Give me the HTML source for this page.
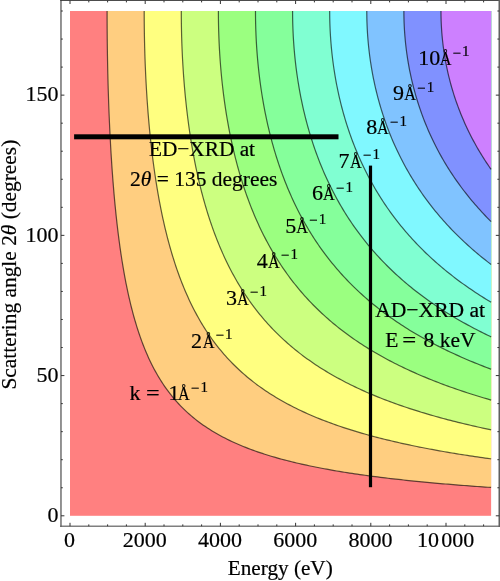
<!DOCTYPE html>
<html><head><meta charset="utf-8"><style>
html,body{margin:0;padding:0;background:#fff;}
body{width:500px;height:581px;position:relative;overflow:hidden;}
svg{position:absolute;left:0;top:0;}
.tx{font-family:"Liberation Serif",serif;font-size:22px;fill:#000;stroke:#000;stroke-width:0.2px;}
.tx .an{font-size:19px;}
.tx .sp{font-size:15px;}
</style></head><body>
<svg width="500" height="581" viewBox="0 0 500 581">
<rect x="70" y="11.01" width="421.12" height="504.79" fill="#FF8080"/>
<path d="M107.1,11.01 107.1,13.51 107.1,16.01 107.11,18.51 107.12,21.01 107.13,23.51 107.14,26.02 107.15,28.52 107.17,31.02 107.19,33.52 107.21,36.02 107.23,38.52 107.26,41.02 107.29,43.53 107.32,46.03 107.35,48.53 107.39,51.03 107.42,53.53 107.46,56.03 107.51,58.53 107.55,61.03 107.6,63.54 107.65,66.04 107.7,68.54 107.75,71.04 107.81,73.54 107.87,76.04 107.93,78.54 108,81.05 108.06,83.55 108.13,86.05 108.2,88.55 108.28,91.05 108.36,93.55 108.44,96.05 108.52,98.55 108.6,101.06 108.69,103.56 108.78,106.06 108.87,108.56 108.97,111.06 109.07,113.56 109.17,116.06 109.28,118.57 109.38,121.07 109.5,123.57 109.61,126.07 109.73,128.57 109.85,131.07 109.97,133.57 110.1,136.08 110.23,138.58 110.36,141.08 110.49,143.58 110.63,146.08 110.78,148.58 110.92,151.08 111.07,153.58 111.23,156.09 111.39,158.59 111.55,161.09 111.71,163.59 111.88,166.09 112.05,168.59 112.23,171.09 112.41,173.6 112.6,176.1 112.78,178.6 112.98,181.1 113.18,183.6 113.38,186.1 113.59,188.6 113.8,191.1 114.01,193.61 114.23,196.11 114.46,198.61 114.69,201.11 114.93,203.61 115.17,206.11 115.42,208.61 115.67,211.12 115.93,213.62 116.19,216.12 116.46,218.62 116.74,221.12 117.02,223.62 117.31,226.12 117.6,228.62 117.9,231.13 118.21,233.63 118.52,236.13 118.85,238.63 119.18,241.13 119.51,243.63 119.85,246.11 120.2,248.59 120.56,251.07 120.93,253.54 121.3,256.02 121.68,258.5 122.07,260.98 122.47,263.45 122.88,265.93 123.3,268.41 123.73,270.89 124.17,273.36 124.62,275.84 125.08,278.32 125.55,280.8 126.03,283.27 126.52,285.73 127.03,288.18 127.54,290.63 128.07,293.09 128.61,295.54 129.16,298 129.73,300.45 130.31,302.9 130.91,305.33 131.51,307.76 132.14,310.19 132.78,312.62 133.43,315.05 134.11,317.48 134.79,319.89 135.5,322.29 136.22,324.7 136.96,327.11 137.73,329.51 138.5,331.89 139.3,334.28 140.12,336.66 140.96,339.02 141.82,341.38 142.71,343.73 143.61,346.07 144.54,348.4 145.5,350.74 146.48,353.05 147.48,355.36 148.51,357.65 149.57,359.93 150.65,362.2 151.76,364.46 152.9,366.7 154.06,368.91 155.26,371.13 156.48,373.32 157.73,375.49 159.02,377.66 160.33,379.8 161.68,381.92 163.05,384.02 164.45,386.09 165.89,388.14 167.37,390.19 168.88,392.21 170.43,394.21 171.99,396.17 173.59,398.1 175.21,400 176.88,401.88 178.58,403.74 180.31,405.58 182.08,407.39 183.86,409.15 185.68,410.89 187.53,412.6 189.4,414.27 191.3,415.92 193.23,417.54 195.2,419.13 197.18,420.68 199.19,422.2 201.24,423.71 203.29,425.16 205.36,426.59 207.48,427.99 209.58,429.35 211.72,430.69 213.88,432 216.07,433.28 218.25,434.52 220.45,435.74 222.68,436.93 224.93,438.09 227.19,439.24 229.48,440.36 231.79,441.45 234.06,442.5 236.35,443.53 238.64,444.53 240.95,445.5 243.26,446.46 245.64,447.41 248.02,448.34 250.41,449.24 252.79,450.12 255.18,450.98 257.56,451.82 259.93,452.63 262.37,453.44 264.79,454.22 267.2,454.98 269.6,455.72 272.05,456.46 274.49,457.18 276.9,457.87 279.37,458.56 281.81,459.22 284.31,459.89 286.78,460.53 289.22,461.15 291.71,461.77 294.15,462.37 296.66,462.96 299.11,463.54 301.63,464.11 304.09,464.66 306.6,465.2 309.06,465.73 311.56,466.25 314.13,466.78 316.62,467.28 319.17,467.78 321.65,468.25 324.18,468.73 326.76,469.21 329.26,469.66 331.81,470.11 334.28,470.54 336.79,470.97 339.35,471.4 341.96,471.83 344.47,472.23 347.03,472.64 349.64,473.04 352.14,473.42 354.68,473.8 357.28,474.18 359.92,474.57 362.44,474.92 365,475.28 367.61,475.64 370.09,475.97 372.61,476.31 375.18,476.64 377.79,476.97 380.44,477.31 382.95,477.62 385.49,477.92 388.08,478.23 390.71,478.54 393.39,478.85 395.9,479.14 398.45,479.43 401.04,479.71 403.67,480 406.35,480.28 408.84,480.55 411.37,480.81 413.93,481.07 416.54,481.33 419.18,481.59 421.87,481.86 424.59,482.12 427.11,482.36 429.66,482.59 432.25,482.83 434.88,483.07 437.55,483.31 440.25,483.55 443,483.79 445.5,484 448.04,484.21 450.62,484.43 453.23,484.64 455.88,484.86 458.56,485.07 461.28,485.29 464.04,485.5 466.84,485.71 469.37,485.91 471.92,486.1 474.51,486.29 477.13,486.48 479.79,486.67 482.48,486.86 485.2,487.05 487.97,487.24 490.77,487.43 491.12,487.45 491.12,487.45 491.12,11.01Z" fill="#FFCE80"/>
<path d="M144.19,11.01 144.2,13.52 144.2,16.02 144.22,18.53 144.23,21.04 144.25,23.55 144.28,26.06 144.31,28.56 144.34,31.07 144.38,33.58 144.42,36.09 144.47,38.6 144.52,41.11 144.58,43.61 144.64,46.12 144.71,48.63 144.78,51.14 144.85,53.65 144.93,56.15 145.02,58.66 145.11,61.17 145.2,63.68 145.3,66.19 145.41,68.69 145.52,71.2 145.63,73.71 145.75,76.22 145.87,78.73 146,81.23 146.14,83.74 146.28,86.25 146.42,88.76 146.57,91.27 146.73,93.78 146.89,96.28 147.05,98.79 147.22,101.3 147.4,103.81 147.58,106.32 147.77,108.82 147.96,111.33 148.16,113.84 148.37,116.35 148.58,118.86 148.8,121.36 149.02,123.87 149.25,126.38 149.48,128.89 149.72,131.4 149.97,133.91 150.23,136.41 150.49,138.92 150.75,141.43 151.03,143.92 151.3,146.4 151.59,148.89 151.88,151.37 152.18,153.86 152.49,156.34 152.8,158.83 153.12,161.32 153.45,163.8 153.79,166.29 154.13,168.77 154.48,171.26 154.84,173.74 155.21,176.23 155.59,178.72 155.97,181.2 156.37,183.69 156.77,186.17 157.18,188.66 157.6,191.14 158.03,193.63 158.47,196.09 158.91,198.56 159.37,201.02 159.83,203.48 160.31,205.95 160.79,208.41 161.29,210.87 161.8,213.34 162.31,215.8 162.84,218.26 163.38,220.73 163.93,223.17 164.49,225.61 165.06,228.05 165.65,230.49 166.25,232.93 166.86,235.37 167.48,237.81 168.12,240.25 168.77,242.67 169.43,245.09 170.1,247.51 170.79,249.93 171.5,252.35 172.21,254.74 172.94,257.14 173.69,259.53 174.45,261.93 175.23,264.33 176.02,266.7 176.83,269.07 177.66,271.45 178.5,273.82 179.36,276.17 180.23,278.52 181.13,280.88 182.05,283.23 182.98,285.56 183.93,287.89 184.9,290.21 185.89,292.52 186.9,294.83 187.92,297.11 188.97,299.4 190.04,301.68 191.13,303.94 192.24,306.2 193.37,308.44 194.53,310.68 195.7,312.9 196.9,315.12 198.12,317.31 199.36,319.51 200.63,321.68 201.91,323.83 203.22,325.98 204.55,328.1 205.9,330.21 207.28,332.31 208.69,334.4 210.11,336.46 211.57,338.52 213.04,340.56 214.54,342.57 216.06,344.56 217.61,346.56 219.19,348.53 220.79,350.48 222.4,352.4 224.04,354.31 225.7,356.19 227.39,358.04 229.09,359.88 230.81,361.7 232.56,363.49 234.35,365.28 236.16,367.05 237.99,368.79 239.84,370.52 241.72,372.22 243.62,373.9 245.53,375.56 247.44,377.17 249.37,378.76 251.32,380.33 253.29,381.87 255.28,383.39 257.28,384.9 259.3,386.37 261.33,387.83 263.39,389.26 265.45,390.67 267.54,392.06 269.63,393.43 271.74,394.77 273.9,396.11 276.07,397.44 278.25,398.73 280.44,400.01 282.65,401.26 284.86,402.5 287.08,403.71 289.31,404.89 291.55,406.06 293.79,407.2 296.03,408.32 298.32,409.44 300.61,410.54 302.91,411.61 305.2,412.66 307.49,413.69 309.83,414.72 312.16,415.73 314.49,416.72 316.82,417.68 319.19,418.64 321.55,419.58 323.9,420.5 326.24,421.4 328.62,422.29 330.99,423.17 333.34,424.02 335.74,424.87 338.12,425.7 340.54,426.53 342.95,427.33 345.32,428.12 347.75,428.9 350.14,429.66 352.58,430.42 354.99,431.16 357.44,431.9 359.86,432.62 362.32,433.33 364.75,434.03 367.22,434.72 369.65,435.39 372.12,436.06 374.55,436.71 377.02,437.36 379.45,437.99 381.91,438.62 384.42,439.24 386.87,439.85 389.37,440.45 391.81,441.04 394.29,441.62 396.81,442.2 399.27,442.76 401.77,443.32 404.31,443.88 406.79,444.42 409.3,444.96 411.85,445.49 414.33,446.01 416.85,446.52 419.41,447.04 421.89,447.53 424.41,448.02 426.97,448.52 429.45,448.99 431.96,449.46 434.5,449.93 436.96,450.37 439.46,450.82 441.99,451.27 444.55,451.72 447.02,452.14 449.53,452.57 452.07,452.99 454.64,453.42 457.11,453.82 459.61,454.23 462.15,454.63 464.72,455.03 467.32,455.44 469.81,455.82 472.34,456.2 474.89,456.58 477.48,456.96 480.11,457.34 482.61,457.7 485.14,458.06 487.71,458.41 490.3,458.77 491.12,458.88 491.12,458.88 491.12,11.01Z" fill="#FFFF80"/>
<path d="M181.29,11.01 181.3,13.52 181.31,16.03 181.32,18.55 181.35,21.06 181.38,23.57 181.41,26.09 181.46,28.6 181.51,31.11 181.57,33.63 181.63,36.14 181.71,38.65 181.78,41.16 181.87,43.68 181.96,46.19 182.06,48.7 182.17,51.22 182.28,53.73 182.4,56.24 182.53,58.76 182.67,61.27 182.81,63.78 182.96,66.3 183.12,68.81 183.28,71.32 183.45,73.83 183.63,76.35 183.82,78.86 184.01,81.37 184.22,83.87 184.42,86.36 184.64,88.85 184.86,91.34 185.09,93.83 185.33,96.33 185.58,98.82 185.84,101.31 186.1,103.8 186.37,106.29 186.65,108.79 186.94,111.28 187.24,113.77 187.54,116.26 187.85,118.76 188.18,121.25 188.51,123.74 188.85,126.23 189.2,128.72 189.56,131.22 189.93,133.71 190.31,136.2 190.69,138.67 191.09,141.14 191.49,143.61 191.9,146.08 192.33,148.56 192.76,151.03 193.21,153.5 193.66,155.97 194.13,158.44 194.6,160.91 195.09,163.38 195.59,165.85 196.1,168.3 196.62,170.75 197.15,173.2 197.69,175.66 198.24,178.11 198.81,180.56 199.39,183.01 199.98,185.46 200.58,187.89 201.19,190.31 201.81,192.74 202.45,195.17 203.11,197.6 203.77,200.03 204.45,202.44 205.14,204.85 205.85,207.26 206.57,209.67 207.3,212.07 208.05,214.46 208.81,216.85 209.58,219.24 210.38,221.62 211.19,224.01 212.01,226.38 212.84,228.74 213.7,231.11 214.57,233.46 215.45,235.8 216.35,238.15 217.27,240.49 218.21,242.82 219.16,245.14 220.13,247.47 221.12,249.77 222.12,252.07 223.15,254.38 224.19,256.66 225.25,258.94 226.32,261.2 227.42,263.47 228.53,265.71 229.66,267.95 230.82,270.19 231.99,272.41 233.19,274.63 234.4,276.83 235.64,279.03 236.89,281.2 238.15,283.36 239.44,285.52 240.75,287.65 242.08,289.79 243.43,291.9 244.81,294.02 246.21,296.11 247.62,298.19 249.06,300.26 250.52,302.31 251.99,304.34 253.48,306.36 255,308.37 256.53,310.35 258.09,312.32 259.66,314.27 261.26,316.22 262.88,318.15 264.52,320.05 266.17,321.94 267.84,323.8 269.54,325.66 271.26,327.51 273,329.33 274.75,331.13 276.52,332.91 278.31,334.67 280.11,336.41 281.95,338.15 283.8,339.86 285.67,341.56 287.56,343.23 289.46,344.89 291.38,346.52 293.31,348.13 295.25,349.73 297.21,351.3 299.18,352.85 301.16,354.38 303.18,355.9 305.21,357.41 307.26,358.9 309.32,360.36 311.39,361.81 313.47,363.23 315.55,364.64 317.65,366.02 319.76,367.38 321.87,368.72 324.02,370.06 326.18,371.38 328.35,372.68 330.52,373.96 332.7,375.21 334.88,376.45 337.1,377.68 339.32,378.9 341.54,380.09 343.77,381.27 345.99,382.42 348.26,383.57 350.52,384.7 352.78,385.81 355.04,386.9 357.34,387.99 359.63,389.06 361.92,390.1 364.25,391.15 366.56,392.18 368.88,393.18 371.18,394.17 373.51,395.15 375.84,396.11 378.21,397.08 380.56,398.02 382.9,398.94 385.28,399.86 387.64,400.76 389.98,401.64 392.36,402.52 394.72,403.38 397.12,404.24 399.49,405.08 401.9,405.91 404.29,406.73 406.72,407.55 409.12,408.34 411.55,409.14 413.96,409.91 416.4,410.69 418.81,411.44 421.26,412.2 423.68,412.93 426.13,413.66 428.55,414.37 431,415.09 433.41,415.78 435.86,416.47 438.34,417.16 440.78,417.83 443.25,418.5 445.68,419.15 448.15,419.8 450.64,420.45 453.09,421.08 455.58,421.7 458.01,422.31 460.48,422.92 462.97,423.53 465.42,424.11 467.89,424.7 470.4,425.29 472.85,425.85 475.33,426.42 477.85,426.98 480.3,427.53 482.78,428.07 485.3,428.62 487.74,429.14 490.22,429.66 491.12,429.85 491.12,429.85 491.12,11.01Z" fill="#CCFF80"/>
<path d="M218.39,11.01 218.39,13.52 218.41,16.03 218.43,18.54 218.46,21.05 218.5,23.56 218.55,26.06 218.61,28.57 218.68,31.08 218.76,33.59 218.84,36.1 218.94,38.61 219.04,41.12 219.16,43.63 219.28,46.14 219.41,48.65 219.56,51.16 219.71,53.67 219.87,56.18 220.04,58.69 220.22,61.2 220.41,63.71 220.61,66.22 220.82,68.73 221.03,71.24 221.26,73.73 221.5,76.22 221.74,78.71 222,81.2 222.27,83.69 222.54,86.18 222.83,88.67 223.13,91.16 223.43,93.65 223.75,96.14 224.08,98.63 224.42,101.12 224.77,103.61 225.13,106.1 225.5,108.59 225.89,111.08 226.28,113.55 226.68,116.02 227.09,118.49 227.52,120.96 227.96,123.43 228.41,125.9 228.87,128.37 229.34,130.84 229.83,133.31 230.32,135.76 230.83,138.21 231.34,140.67 231.88,143.12 232.42,145.57 232.98,148.02 233.55,150.47 234.14,152.92 234.73,155.35 235.34,157.78 235.96,160.22 236.6,162.65 237.25,165.08 237.91,167.49 238.58,169.9 239.27,172.32 239.98,174.73 240.7,177.14 241.43,179.53 242.17,181.93 242.93,184.32 243.71,186.71 244.5,189.09 245.31,191.46 246.13,193.83 246.97,196.21 247.82,198.56 248.69,200.91 249.58,203.27 250.48,205.6 251.4,207.94 252.33,210.27 253.28,212.58 254.25,214.9 255.23,217.21 256.23,219.51 257.25,221.81 258.29,224.1 259.34,226.38 260.42,228.65 261.5,230.91 262.61,233.17 263.73,235.4 264.87,237.64 266.03,239.86 267.21,242.08 268.4,244.27 269.62,246.47 270.85,248.65 272.1,250.83 273.37,252.99 274.67,255.15 275.97,257.29 277.31,259.43 278.65,261.55 280.02,263.65 281.4,265.75 282.81,267.83 284.23,269.89 285.67,271.96 287.13,274 288.6,276.02 290.11,278.05 291.63,280.05 293.16,282.03 294.71,284 296.28,285.96 297.88,287.91 299.48,289.83 301.1,291.74 302.76,293.65 304.42,295.53 306.11,297.4 307.8,299.25 309.51,301.08 311.26,302.91 313.01,304.72 314.79,306.51 316.57,308.28 318.37,310.03 320.18,311.76 322.01,313.47 323.87,315.18 325.74,316.88 327.63,318.55 329.53,320.2 331.44,321.84 333.36,323.45 335.3,325.05 337.24,326.62 339.22,328.2 341.21,329.75 343.22,331.29 345.23,332.81 347.25,334.31 349.28,335.78 351.32,337.24 353.37,338.68 355.45,340.12 357.54,341.54 359.64,342.94 361.74,344.32 363.85,345.69 365.97,347.03 368.12,348.37 370.28,349.69 372.44,351 374.6,352.28 376.77,353.54 378.97,354.81 381.17,356.05 383.38,357.28 385.58,358.49 387.79,359.67 390.03,360.86 392.27,362.03 394.5,363.17 396.74,364.3 399.01,365.43 401.27,366.54 403.53,367.63 405.82,368.72 408.11,369.79 410.39,370.84 412.7,371.89 415.01,372.92 417.31,373.93 419.64,374.94 421.96,375.94 424.26,376.91 426.61,377.88 428.93,378.83 431.3,379.79 433.64,380.72 435.97,381.64 438.34,382.55 440.68,383.44 443.06,384.34 445.42,385.22 447.82,386.09 450.19,386.95 452.59,387.8 454.98,388.64 457.39,389.48 459.78,390.29 462.21,391.11 464.6,391.91 467.03,392.7 469.44,393.48 471.87,394.26 474.27,395.02 476.71,395.78 479.11,396.52 481.54,397.26 483.94,397.98 486.37,398.7 488.83,399.42 491.12,400.08 491.12,400.08 491.12,11.01Z" fill="#9BFF80"/>
<path d="M255.49,11.01 255.49,13.52 255.51,16.02 255.54,18.53 255.58,21.04 255.63,23.55 255.69,26.05 255.76,28.56 255.85,31.07 255.95,33.58 256.05,36.08 256.17,38.59 256.3,41.1 256.45,43.61 256.6,46.11 256.76,48.62 256.94,51.13 257.13,53.64 257.33,56.14 257.54,58.65 257.77,61.16 258,63.65 258.25,66.14 258.51,68.63 258.78,71.12 259.06,73.61 259.36,76.1 259.67,78.59 259.98,81.07 260.32,83.56 260.66,86.05 261.02,88.54 261.39,91.03 261.77,93.51 262.17,95.98 262.57,98.45 262.99,100.92 263.42,103.39 263.87,105.86 264.33,108.34 264.81,110.81 265.29,113.26 265.79,115.71 266.3,118.17 266.83,120.62 267.37,123.08 267.92,125.53 268.49,127.97 269.07,130.4 269.66,132.84 270.27,135.27 270.9,137.71 271.54,140.13 272.19,142.54 272.86,144.96 273.54,147.38 274.24,149.8 274.95,152.2 275.68,154.6 276.42,157 277.19,159.4 277.96,161.78 278.75,164.16 279.56,166.55 280.38,168.91 281.21,171.27 282.07,173.64 282.94,175.98 283.82,178.33 284.73,180.68 285.64,183.01 286.58,185.33 287.53,187.66 288.5,189.97 289.49,192.28 290.49,194.58 291.51,196.87 292.56,199.16 293.61,201.44 294.69,203.71 295.78,205.97 296.89,208.22 298.01,210.46 299.16,212.7 300.32,214.92 301.5,217.14 302.7,219.35 303.92,221.55 305.15,223.73 306.4,225.9 307.67,228.07 308.96,230.22 310.27,232.37 311.59,234.5 312.93,236.61 314.3,238.73 315.67,240.82 317.07,242.9 318.49,244.98 319.92,247.04 321.37,249.08 322.84,251.12 324.33,253.14 325.83,255.15 327.35,257.14 328.89,259.13 330.45,261.1 332.03,263.05 333.62,264.98 335.23,266.92 336.87,268.83 338.51,270.73 340.17,272.61 341.84,274.48 343.55,276.34 345.26,278.18 347,280.01 348.74,281.82 350.5,283.61 352.27,285.38 354.05,287.14 355.87,288.89 357.7,290.63 359.54,292.35 361.39,294.05 363.26,295.74 365.13,297.4 367.02,299.05 368.92,300.68 370.85,302.31 372.8,303.92 374.75,305.51 376.72,307.09 378.69,308.65 380.68,310.19 382.67,311.71 384.67,313.22 386.68,314.7 388.73,316.19 390.78,317.66 392.84,319.11 394.9,320.54 396.98,321.96 399.06,323.35 401.14,324.73 403.26,326.11 405.39,327.47 407.51,328.82 409.65,330.14 411.78,331.45 413.95,332.76 416.12,334.05 418.3,335.32 420.47,336.57 422.65,337.81 424.86,339.04 427.07,340.26 429.28,341.46 431.48,342.64 433.73,343.83 435.96,344.99 438.2,346.14 440.43,347.26 442.7,348.39 444.96,349.5 447.21,350.6 449.5,351.69 451.78,352.76 454.05,353.82 456.36,354.88 458.66,355.92 460.95,356.94 463.27,357.96 465.58,358.96 467.88,359.95 470.21,360.93 472.52,361.9 474.87,362.87 477.21,363.81 479.53,364.75 481.88,365.68 484.22,366.59 486.58,367.5 488.93,368.4 491.12,369.22 491.12,369.22 491.12,11.01Z" fill="#85FF9B"/>
<path d="M292.58,11.01 292.59,13.52 292.61,16.03 292.65,18.53 292.69,21.04 292.75,23.55 292.83,26.06 292.92,28.57 293.02,31.08 293.14,33.59 293.26,36.1 293.41,38.61 293.56,41.11 293.74,43.62 293.92,46.13 294.12,48.62 294.33,51.12 294.55,53.61 294.79,56.1 295.05,58.6 295.31,61.09 295.6,63.58 295.89,66.07 296.2,68.57 296.53,71.06 296.87,73.55 297.22,76.03 297.59,78.5 297.97,80.98 298.36,83.46 298.77,85.93 299.2,88.41 299.64,90.88 300.1,93.34 300.56,95.8 301.05,98.26 301.55,100.72 302.07,103.18 302.59,105.63 303.14,108.07 303.7,110.52 304.28,112.96 304.87,115.4 305.47,117.83 306.1,120.26 306.74,122.69 307.39,125.11 308.06,127.52 308.75,129.94 309.45,132.35 310.17,134.76 310.91,137.15 311.66,139.55 312.43,141.94 313.21,144.32 314.02,146.7 314.84,149.08 315.67,151.44 316.52,153.8 317.39,156.15 318.28,158.49 319.18,160.84 320.1,163.17 321.04,165.5 321.99,167.81 322.96,170.13 323.95,172.42 324.96,174.72 325.99,177.02 327.03,179.3 328.09,181.58 329.17,183.84 330.27,186.11 331.39,188.36 332.52,190.59 333.67,192.82 334.83,195.04 336.02,197.25 337.23,199.45 338.45,201.65 339.69,203.83 340.95,206 342.23,208.17 343.53,210.32 344.84,212.45 346.17,214.59 347.52,216.7 348.88,218.8 350.27,220.91 351.68,222.99 353.1,225.06 354.53,227.11 355.99,229.17 357.47,231.2 358.96,233.22 360.46,235.23 361.98,237.21 363.53,239.2 365.09,241.17 366.67,243.13 368.26,245.07 369.86,246.99 371.48,248.89 373.13,250.8 374.79,252.69 376.47,254.56 378.16,256.42 379.86,258.26 381.58,260.09 383.31,261.9 385.06,263.69 386.83,265.48 388.62,267.26 390.42,269.01 392.24,270.76 394.07,272.48 395.91,274.2 397.76,275.89 399.63,277.57 401.5,279.23 403.39,280.87 405.29,282.5 407.2,284.12 409.14,285.73 411.09,287.33 413.06,288.91 415.03,290.47 417.01,292.02 419.01,293.55 421.01,295.06 423.02,296.56 425.04,298.05 427.07,299.51 429.13,300.98 431.2,302.43 433.27,303.86 435.35,305.28 437.44,306.68 439.54,308.07 441.64,309.43 443.74,310.79 445.88,312.14 448.02,313.47 450.17,314.79 452.32,316.1 454.47,317.38 456.63,318.65 458.81,319.93 461,321.18 463.19,322.42 465.38,323.64 467.58,324.85 469.8,326.05 472.02,327.24 474.24,328.41 476.46,329.57 478.72,330.73 480.96,331.87 483.21,332.99 485.45,334.1 487.72,335.21 489.99,336.3 491.12,336.84 491.12,336.84 491.12,11.01Z" fill="#80FFD2"/>
<path d="M329.68,11.01 329.69,13.51 329.71,16.02 329.75,18.52 329.81,21.03 329.88,23.53 329.97,26.04 330.07,28.54 330.19,31.05 330.32,33.55 330.47,36.06 330.64,38.56 330.82,41.07 331.02,43.57 331.24,46.08 331.47,48.57 331.71,51.06 331.97,53.55 332.25,56.04 332.55,58.53 332.86,61.02 333.19,63.51 333.53,66 333.89,68.47 334.27,70.95 334.66,73.42 335.07,75.9 335.49,78.38 335.94,80.84 336.39,83.3 336.87,85.76 337.36,88.22 337.87,90.68 338.4,93.13 338.94,95.57 339.5,98.02 340.08,100.47 340.67,102.9 341.28,105.33 341.91,107.76 342.56,110.18 343.22,112.6 343.9,115.02 344.6,117.42 345.31,119.82 346.05,122.22 346.8,124.61 347.57,127 348.36,129.39 349.16,131.76 349.98,134.14 350.82,136.5 351.68,138.85 352.55,141.2 353.45,143.54 354.36,145.87 355.29,148.2 356.23,150.52 357.2,152.84 358.18,155.14 359.19,157.44 360.21,159.72 361.25,162.01 362.3,164.28 363.38,166.55 364.48,168.81 365.59,171.05 366.72,173.3 367.87,175.52 369.03,177.74 370.22,179.95 371.43,182.15 372.64,184.33 373.89,186.52 375.15,188.69 376.42,190.84 377.72,193 379.04,195.14 380.37,197.27 381.72,199.38 383.08,201.47 384.47,203.57 385.87,205.65 387.29,207.72 388.73,209.78 390.18,211.81 391.65,213.84 393.14,215.86 394.65,217.87 396.18,219.87 397.72,221.85 399.28,223.81 400.85,225.77 402.44,227.7 404.04,229.62 405.66,231.53 407.29,233.43 408.95,235.32 410.63,237.2 412.32,239.06 414.03,240.91 415.75,242.75 417.48,244.57 419.24,246.37 421,248.16 422.78,249.94 424.57,251.7 426.38,253.45 428.2,255.18 430.03,256.9 431.88,258.6 433.74,260.29 435.62,261.97 437.5,263.63 439.4,265.27 441.31,266.91 443.24,268.52 445.17,270.12 447.12,271.71 449.08,273.28 451.05,274.84 453.03,276.39 455.02,277.91 457.02,279.43 459.03,280.93 461.05,282.41 463.08,283.89 465.12,285.34 467.17,286.78 469.22,288.21 471.28,289.62 473.38,291.04 475.48,292.43 477.59,293.82 479.7,295.19 481.82,296.54 483.95,297.88 486.08,299.21 488.22,300.52 490.37,301.81 491.12,302.26 491.12,302.26 491.12,11.01Z" fill="#80F8FF"/>
<path d="M366.78,11.01 366.79,13.52 366.82,16.03 366.86,18.54 366.92,21.05 367.01,23.55 367.11,26.06 367.22,28.57 367.36,31.07 367.51,33.57 367.68,36.06 367.87,38.56 368.08,41.06 368.31,43.55 368.55,46.05 368.82,48.55 369.1,51.04 369.4,53.53 369.71,56.01 370.05,58.5 370.4,60.98 370.78,63.46 371.17,65.94 371.58,68.41 372.01,70.88 372.45,73.35 372.92,75.81 373.4,78.27 373.9,80.73 374.42,83.17 374.96,85.62 375.52,88.06 376.1,90.5 376.69,92.93 377.31,95.36 377.94,97.78 378.59,100.2 379.26,102.62 379.95,105.03 380.66,107.44 381.39,109.84 382.14,112.23 382.9,114.61 383.69,117 384.49,119.37 385.31,121.74 386.15,124.09 387.02,126.45 387.89,128.8 388.8,131.14 389.71,133.47 390.65,135.79 391.61,138.11 392.58,140.42 393.58,142.72 394.6,145.02 395.63,147.3 396.68,149.58 397.76,151.85 398.85,154.1 399.95,156.35 401.08,158.59 402.23,160.82 403.4,163.04 404.58,165.24 405.79,167.45 407.01,169.64 408.26,171.82 409.52,173.99 410.79,176.14 412.09,178.29 413.4,180.42 414.74,182.54 416.09,184.66 417.46,186.76 418.85,188.86 420.26,190.93 421.68,193 423.12,195.05 424.58,197.09 426.06,199.12 427.55,201.14 429.06,203.14 430.59,205.13 432.13,207.11 433.7,209.07 435.27,211.02 436.87,212.96 438.48,214.89 440.11,216.8 441.75,218.7 443.42,220.59 445.09,222.47 446.78,224.32 448.48,226.15 450.19,227.98 451.92,229.79 453.67,231.59 455.43,233.38 457.21,235.15 459,236.91 460.81,238.66 462.63,240.4 464.46,242.11 466.3,243.81 468.15,245.49 470.02,247.17 471.9,248.83 473.79,250.47 475.7,252.11 477.63,253.73 479.56,255.34 481.5,256.93 483.44,258.5 485.4,260.06 487.38,261.6 489.36,263.14 491.12,264.48 491.12,264.48 491.12,11.01Z" fill="#80C3FF"/>
<path d="M403.88,11.01 403.89,13.51 403.92,16.02 403.97,18.53 404.04,21.03 404.13,23.54 404.24,26.05 404.37,28.55 404.53,31.05 404.7,33.54 404.89,36.04 405.11,38.53 405.34,41.03 405.59,43.53 405.87,46.01 406.16,48.5 406.48,50.98 406.81,53.47 407.17,55.95 407.54,58.43 407.94,60.9 408.36,63.38 408.8,65.84 409.25,68.3 409.73,70.77 410.23,73.22 410.75,75.67 411.29,78.12 411.85,80.56 412.43,82.99 413.03,85.43 413.65,87.85 414.3,90.27 414.96,92.68 415.64,95.09 416.34,97.49 417.07,99.89 417.81,102.28 418.58,104.67 419.36,107.05 420.17,109.42 421,111.79 421.84,114.15 422.71,116.5 423.6,118.85 424.51,121.19 425.44,123.51 426.38,125.83 427.35,128.14 428.34,130.44 429.35,132.74 430.38,135.02 431.43,137.3 432.5,139.56 433.58,141.82 434.69,144.06 435.81,146.29 436.96,148.52 438.13,150.75 439.32,152.96 440.53,155.16 441.76,157.35 443.01,159.53 444.28,161.7 445.56,163.84 446.85,165.98 448.17,168.11 449.51,170.23 450.87,172.33 452.24,174.43 453.64,176.51 455.05,178.59 456.48,180.64 457.93,182.68 459.39,184.72 460.88,186.74 462.38,188.75 463.89,190.74 465.42,192.72 466.97,194.69 468.54,196.65 470.13,198.59 471.73,200.52 473.35,202.44 474.98,204.34 476.63,206.23 478.29,208.1 479.97,209.97 481.67,211.82 483.38,213.65 485.1,215.47 486.84,217.29 488.59,219.08 490.36,220.86 491.12,221.61 491.12,221.61 491.12,11.01Z" fill="#8091FF"/>
<path d="M440.97,11.01 440.99,13.51 441.02,16.01 441.08,18.52 441.15,21.02 441.26,23.52 441.38,26.03 441.53,28.53 441.69,31.03 441.89,33.52 442.1,36.02 442.34,38.51 442.6,41 442.88,43.49 443.18,45.97 443.51,48.45 443.86,50.93 444.23,53.41 444.62,55.88 445.04,58.35 445.48,60.82 445.94,63.28 446.42,65.74 446.93,68.19 447.45,70.64 448,73.08 448.58,75.52 449.17,77.95 449.79,80.38 450.43,82.8 451.09,85.22 451.77,87.62 452.48,90.02 453.2,92.42 453.95,94.81 454.73,97.19 455.52,99.57 456.34,101.94 457.17,104.3 458.03,106.65 458.91,109 459.82,111.33 460.74,113.66 461.69,115.98 462.65,118.29 463.64,120.6 464.65,122.89 465.68,125.17 466.73,127.44 467.8,129.71 468.9,131.96 470.01,134.2 471.14,136.43 472.3,138.66 473.47,140.87 474.67,143.07 475.88,145.26 477.11,147.44 478.37,149.61 479.64,151.76 480.94,153.91 482.25,156.04 483.58,158.16 484.93,160.27 486.3,162.37 487.69,164.45 489.1,166.53 490.53,168.59 491.12,169.43 491.12,169.43 491.12,11.01Z" fill="#CD80FF"/>
<g fill="none" stroke="#000" stroke-opacity="0.62" stroke-width="1.2"><path d="M107.1,11.01 107.1,13.51 107.1,16.01 107.11,18.51 107.12,21.01 107.13,23.51 107.14,26.02 107.15,28.52 107.17,31.02 107.19,33.52 107.21,36.02 107.23,38.52 107.26,41.02 107.29,43.53 107.32,46.03 107.35,48.53 107.39,51.03 107.42,53.53 107.46,56.03 107.51,58.53 107.55,61.03 107.6,63.54 107.65,66.04 107.7,68.54 107.75,71.04 107.81,73.54 107.87,76.04 107.93,78.54 108,81.05 108.06,83.55 108.13,86.05 108.2,88.55 108.28,91.05 108.36,93.55 108.44,96.05 108.52,98.55 108.6,101.06 108.69,103.56 108.78,106.06 108.87,108.56 108.97,111.06 109.07,113.56 109.17,116.06 109.28,118.57 109.38,121.07 109.5,123.57 109.61,126.07 109.73,128.57 109.85,131.07 109.97,133.57 110.1,136.08 110.23,138.58 110.36,141.08 110.49,143.58 110.63,146.08 110.78,148.58 110.92,151.08 111.07,153.58 111.23,156.09 111.39,158.59 111.55,161.09 111.71,163.59 111.88,166.09 112.05,168.59 112.23,171.09 112.41,173.6 112.6,176.1 112.78,178.6 112.98,181.1 113.18,183.6 113.38,186.1 113.59,188.6 113.8,191.1 114.01,193.61 114.23,196.11 114.46,198.61 114.69,201.11 114.93,203.61 115.17,206.11 115.42,208.61 115.67,211.12 115.93,213.62 116.19,216.12 116.46,218.62 116.74,221.12 117.02,223.62 117.31,226.12 117.6,228.62 117.9,231.13 118.21,233.63 118.52,236.13 118.85,238.63 119.18,241.13 119.51,243.63 119.85,246.11 120.2,248.59 120.56,251.07 120.93,253.54 121.3,256.02 121.68,258.5 122.07,260.98 122.47,263.45 122.88,265.93 123.3,268.41 123.73,270.89 124.17,273.36 124.62,275.84 125.08,278.32 125.55,280.8 126.03,283.27 126.52,285.73 127.03,288.18 127.54,290.63 128.07,293.09 128.61,295.54 129.16,298 129.73,300.45 130.31,302.9 130.91,305.33 131.51,307.76 132.14,310.19 132.78,312.62 133.43,315.05 134.11,317.48 134.79,319.89 135.5,322.29 136.22,324.7 136.96,327.11 137.73,329.51 138.5,331.89 139.3,334.28 140.12,336.66 140.96,339.02 141.82,341.38 142.71,343.73 143.61,346.07 144.54,348.4 145.5,350.74 146.48,353.05 147.48,355.36 148.51,357.65 149.57,359.93 150.65,362.2 151.76,364.46 152.9,366.7 154.06,368.91 155.26,371.13 156.48,373.32 157.73,375.49 159.02,377.66 160.33,379.8 161.68,381.92 163.05,384.02 164.45,386.09 165.89,388.14 167.37,390.19 168.88,392.21 170.43,394.21 171.99,396.17 173.59,398.1 175.21,400 176.88,401.88 178.58,403.74 180.31,405.58 182.08,407.39 183.86,409.15 185.68,410.89 187.53,412.6 189.4,414.27 191.3,415.92 193.23,417.54 195.2,419.13 197.18,420.68 199.19,422.2 201.24,423.71 203.29,425.16 205.36,426.59 207.48,427.99 209.58,429.35 211.72,430.69 213.88,432 216.07,433.28 218.25,434.52 220.45,435.74 222.68,436.93 224.93,438.09 227.19,439.24 229.48,440.36 231.79,441.45 234.06,442.5 236.35,443.53 238.64,444.53 240.95,445.5 243.26,446.46 245.64,447.41 248.02,448.34 250.41,449.24 252.79,450.12 255.18,450.98 257.56,451.82 259.93,452.63 262.37,453.44 264.79,454.22 267.2,454.98 269.6,455.72 272.05,456.46 274.49,457.18 276.9,457.87 279.37,458.56 281.81,459.22 284.31,459.89 286.78,460.53 289.22,461.15 291.71,461.77 294.15,462.37 296.66,462.96 299.11,463.54 301.63,464.11 304.09,464.66 306.6,465.2 309.06,465.73 311.56,466.25 314.13,466.78 316.62,467.28 319.17,467.78 321.65,468.25 324.18,468.73 326.76,469.21 329.26,469.66 331.81,470.11 334.28,470.54 336.79,470.97 339.35,471.4 341.96,471.83 344.47,472.23 347.03,472.64 349.64,473.04 352.14,473.42 354.68,473.8 357.28,474.18 359.92,474.57 362.44,474.92 365,475.28 367.61,475.64 370.09,475.97 372.61,476.31 375.18,476.64 377.79,476.97 380.44,477.31 382.95,477.62 385.49,477.92 388.08,478.23 390.71,478.54 393.39,478.85 395.9,479.14 398.45,479.43 401.04,479.71 403.67,480 406.35,480.28 408.84,480.55 411.37,480.81 413.93,481.07 416.54,481.33 419.18,481.59 421.87,481.86 424.59,482.12 427.11,482.36 429.66,482.59 432.25,482.83 434.88,483.07 437.55,483.31 440.25,483.55 443,483.79 445.5,484 448.04,484.21 450.62,484.43 453.23,484.64 455.88,484.86 458.56,485.07 461.28,485.29 464.04,485.5 466.84,485.71 469.37,485.91 471.92,486.1 474.51,486.29 477.13,486.48 479.79,486.67 482.48,486.86 485.2,487.05 487.97,487.24 490.77,487.43 491.12,487.45"/><path d="M144.19,11.01 144.2,13.52 144.2,16.02 144.22,18.53 144.23,21.04 144.25,23.55 144.28,26.06 144.31,28.56 144.34,31.07 144.38,33.58 144.42,36.09 144.47,38.6 144.52,41.11 144.58,43.61 144.64,46.12 144.71,48.63 144.78,51.14 144.85,53.65 144.93,56.15 145.02,58.66 145.11,61.17 145.2,63.68 145.3,66.19 145.41,68.69 145.52,71.2 145.63,73.71 145.75,76.22 145.87,78.73 146,81.23 146.14,83.74 146.28,86.25 146.42,88.76 146.57,91.27 146.73,93.78 146.89,96.28 147.05,98.79 147.22,101.3 147.4,103.81 147.58,106.32 147.77,108.82 147.96,111.33 148.16,113.84 148.37,116.35 148.58,118.86 148.8,121.36 149.02,123.87 149.25,126.38 149.48,128.89 149.72,131.4 149.97,133.91 150.23,136.41 150.49,138.92 150.75,141.43 151.03,143.92 151.3,146.4 151.59,148.89 151.88,151.37 152.18,153.86 152.49,156.34 152.8,158.83 153.12,161.32 153.45,163.8 153.79,166.29 154.13,168.77 154.48,171.26 154.84,173.74 155.21,176.23 155.59,178.72 155.97,181.2 156.37,183.69 156.77,186.17 157.18,188.66 157.6,191.14 158.03,193.63 158.47,196.09 158.91,198.56 159.37,201.02 159.83,203.48 160.31,205.95 160.79,208.41 161.29,210.87 161.8,213.34 162.31,215.8 162.84,218.26 163.38,220.73 163.93,223.17 164.49,225.61 165.06,228.05 165.65,230.49 166.25,232.93 166.86,235.37 167.48,237.81 168.12,240.25 168.77,242.67 169.43,245.09 170.1,247.51 170.79,249.93 171.5,252.35 172.21,254.74 172.94,257.14 173.69,259.53 174.45,261.93 175.23,264.33 176.02,266.7 176.83,269.07 177.66,271.45 178.5,273.82 179.36,276.17 180.23,278.52 181.13,280.88 182.05,283.23 182.98,285.56 183.93,287.89 184.9,290.21 185.89,292.52 186.9,294.83 187.92,297.11 188.97,299.4 190.04,301.68 191.13,303.94 192.24,306.2 193.37,308.44 194.53,310.68 195.7,312.9 196.9,315.12 198.12,317.31 199.36,319.51 200.63,321.68 201.91,323.83 203.22,325.98 204.55,328.1 205.9,330.21 207.28,332.31 208.69,334.4 210.11,336.46 211.57,338.52 213.04,340.56 214.54,342.57 216.06,344.56 217.61,346.56 219.19,348.53 220.79,350.48 222.4,352.4 224.04,354.31 225.7,356.19 227.39,358.04 229.09,359.88 230.81,361.7 232.56,363.49 234.35,365.28 236.16,367.05 237.99,368.79 239.84,370.52 241.72,372.22 243.62,373.9 245.53,375.56 247.44,377.17 249.37,378.76 251.32,380.33 253.29,381.87 255.28,383.39 257.28,384.9 259.3,386.37 261.33,387.83 263.39,389.26 265.45,390.67 267.54,392.06 269.63,393.43 271.74,394.77 273.9,396.11 276.07,397.44 278.25,398.73 280.44,400.01 282.65,401.26 284.86,402.5 287.08,403.71 289.31,404.89 291.55,406.06 293.79,407.2 296.03,408.32 298.32,409.44 300.61,410.54 302.91,411.61 305.2,412.66 307.49,413.69 309.83,414.72 312.16,415.73 314.49,416.72 316.82,417.68 319.19,418.64 321.55,419.58 323.9,420.5 326.24,421.4 328.62,422.29 330.99,423.17 333.34,424.02 335.74,424.87 338.12,425.7 340.54,426.53 342.95,427.33 345.32,428.12 347.75,428.9 350.14,429.66 352.58,430.42 354.99,431.16 357.44,431.9 359.86,432.62 362.32,433.33 364.75,434.03 367.22,434.72 369.65,435.39 372.12,436.06 374.55,436.71 377.02,437.36 379.45,437.99 381.91,438.62 384.42,439.24 386.87,439.85 389.37,440.45 391.81,441.04 394.29,441.62 396.81,442.2 399.27,442.76 401.77,443.32 404.31,443.88 406.79,444.42 409.3,444.96 411.85,445.49 414.33,446.01 416.85,446.52 419.41,447.04 421.89,447.53 424.41,448.02 426.97,448.52 429.45,448.99 431.96,449.46 434.5,449.93 436.96,450.37 439.46,450.82 441.99,451.27 444.55,451.72 447.02,452.14 449.53,452.57 452.07,452.99 454.64,453.42 457.11,453.82 459.61,454.23 462.15,454.63 464.72,455.03 467.32,455.44 469.81,455.82 472.34,456.2 474.89,456.58 477.48,456.96 480.11,457.34 482.61,457.7 485.14,458.06 487.71,458.41 490.3,458.77 491.12,458.88"/><path d="M181.29,11.01 181.3,13.52 181.31,16.03 181.32,18.55 181.35,21.06 181.38,23.57 181.41,26.09 181.46,28.6 181.51,31.11 181.57,33.63 181.63,36.14 181.71,38.65 181.78,41.16 181.87,43.68 181.96,46.19 182.06,48.7 182.17,51.22 182.28,53.73 182.4,56.24 182.53,58.76 182.67,61.27 182.81,63.78 182.96,66.3 183.12,68.81 183.28,71.32 183.45,73.83 183.63,76.35 183.82,78.86 184.01,81.37 184.22,83.87 184.42,86.36 184.64,88.85 184.86,91.34 185.09,93.83 185.33,96.33 185.58,98.82 185.84,101.31 186.1,103.8 186.37,106.29 186.65,108.79 186.94,111.28 187.24,113.77 187.54,116.26 187.85,118.76 188.18,121.25 188.51,123.74 188.85,126.23 189.2,128.72 189.56,131.22 189.93,133.71 190.31,136.2 190.69,138.67 191.09,141.14 191.49,143.61 191.9,146.08 192.33,148.56 192.76,151.03 193.21,153.5 193.66,155.97 194.13,158.44 194.6,160.91 195.09,163.38 195.59,165.85 196.1,168.3 196.62,170.75 197.15,173.2 197.69,175.66 198.24,178.11 198.81,180.56 199.39,183.01 199.98,185.46 200.58,187.89 201.19,190.31 201.81,192.74 202.45,195.17 203.11,197.6 203.77,200.03 204.45,202.44 205.14,204.85 205.85,207.26 206.57,209.67 207.3,212.07 208.05,214.46 208.81,216.85 209.58,219.24 210.38,221.62 211.19,224.01 212.01,226.38 212.84,228.74 213.7,231.11 214.57,233.46 215.45,235.8 216.35,238.15 217.27,240.49 218.21,242.82 219.16,245.14 220.13,247.47 221.12,249.77 222.12,252.07 223.15,254.38 224.19,256.66 225.25,258.94 226.32,261.2 227.42,263.47 228.53,265.71 229.66,267.95 230.82,270.19 231.99,272.41 233.19,274.63 234.4,276.83 235.64,279.03 236.89,281.2 238.15,283.36 239.44,285.52 240.75,287.65 242.08,289.79 243.43,291.9 244.81,294.02 246.21,296.11 247.62,298.19 249.06,300.26 250.52,302.31 251.99,304.34 253.48,306.36 255,308.37 256.53,310.35 258.09,312.32 259.66,314.27 261.26,316.22 262.88,318.15 264.52,320.05 266.17,321.94 267.84,323.8 269.54,325.66 271.26,327.51 273,329.33 274.75,331.13 276.52,332.91 278.31,334.67 280.11,336.41 281.95,338.15 283.8,339.86 285.67,341.56 287.56,343.23 289.46,344.89 291.38,346.52 293.31,348.13 295.25,349.73 297.21,351.3 299.18,352.85 301.16,354.38 303.18,355.9 305.21,357.41 307.26,358.9 309.32,360.36 311.39,361.81 313.47,363.23 315.55,364.64 317.65,366.02 319.76,367.38 321.87,368.72 324.02,370.06 326.18,371.38 328.35,372.68 330.52,373.96 332.7,375.21 334.88,376.45 337.1,377.68 339.32,378.9 341.54,380.09 343.77,381.27 345.99,382.42 348.26,383.57 350.52,384.7 352.78,385.81 355.04,386.9 357.34,387.99 359.63,389.06 361.92,390.1 364.25,391.15 366.56,392.18 368.88,393.18 371.18,394.17 373.51,395.15 375.84,396.11 378.21,397.08 380.56,398.02 382.9,398.94 385.28,399.86 387.64,400.76 389.98,401.64 392.36,402.52 394.72,403.38 397.12,404.24 399.49,405.08 401.9,405.91 404.29,406.73 406.72,407.55 409.12,408.34 411.55,409.14 413.96,409.91 416.4,410.69 418.81,411.44 421.26,412.2 423.68,412.93 426.13,413.66 428.55,414.37 431,415.09 433.41,415.78 435.86,416.47 438.34,417.16 440.78,417.83 443.25,418.5 445.68,419.15 448.15,419.8 450.64,420.45 453.09,421.08 455.58,421.7 458.01,422.31 460.48,422.92 462.97,423.53 465.42,424.11 467.89,424.7 470.4,425.29 472.85,425.85 475.33,426.42 477.85,426.98 480.3,427.53 482.78,428.07 485.3,428.62 487.74,429.14 490.22,429.66 491.12,429.85"/><path d="M218.39,11.01 218.39,13.52 218.41,16.03 218.43,18.54 218.46,21.05 218.5,23.56 218.55,26.06 218.61,28.57 218.68,31.08 218.76,33.59 218.84,36.1 218.94,38.61 219.04,41.12 219.16,43.63 219.28,46.14 219.41,48.65 219.56,51.16 219.71,53.67 219.87,56.18 220.04,58.69 220.22,61.2 220.41,63.71 220.61,66.22 220.82,68.73 221.03,71.24 221.26,73.73 221.5,76.22 221.74,78.71 222,81.2 222.27,83.69 222.54,86.18 222.83,88.67 223.13,91.16 223.43,93.65 223.75,96.14 224.08,98.63 224.42,101.12 224.77,103.61 225.13,106.1 225.5,108.59 225.89,111.08 226.28,113.55 226.68,116.02 227.09,118.49 227.52,120.96 227.96,123.43 228.41,125.9 228.87,128.37 229.34,130.84 229.83,133.31 230.32,135.76 230.83,138.21 231.34,140.67 231.88,143.12 232.42,145.57 232.98,148.02 233.55,150.47 234.14,152.92 234.73,155.35 235.34,157.78 235.96,160.22 236.6,162.65 237.25,165.08 237.91,167.49 238.58,169.9 239.27,172.32 239.98,174.73 240.7,177.14 241.43,179.53 242.17,181.93 242.93,184.32 243.71,186.71 244.5,189.09 245.31,191.46 246.13,193.83 246.97,196.21 247.82,198.56 248.69,200.91 249.58,203.27 250.48,205.6 251.4,207.94 252.33,210.27 253.28,212.58 254.25,214.9 255.23,217.21 256.23,219.51 257.25,221.81 258.29,224.1 259.34,226.38 260.42,228.65 261.5,230.91 262.61,233.17 263.73,235.4 264.87,237.64 266.03,239.86 267.21,242.08 268.4,244.27 269.62,246.47 270.85,248.65 272.1,250.83 273.37,252.99 274.67,255.15 275.97,257.29 277.31,259.43 278.65,261.55 280.02,263.65 281.4,265.75 282.81,267.83 284.23,269.89 285.67,271.96 287.13,274 288.6,276.02 290.11,278.05 291.63,280.05 293.16,282.03 294.71,284 296.28,285.96 297.88,287.91 299.48,289.83 301.1,291.74 302.76,293.65 304.42,295.53 306.11,297.4 307.8,299.25 309.51,301.08 311.26,302.91 313.01,304.72 314.79,306.51 316.57,308.28 318.37,310.03 320.18,311.76 322.01,313.47 323.87,315.18 325.74,316.88 327.63,318.55 329.53,320.2 331.44,321.84 333.36,323.45 335.3,325.05 337.24,326.62 339.22,328.2 341.21,329.75 343.22,331.29 345.23,332.81 347.25,334.31 349.28,335.78 351.32,337.24 353.37,338.68 355.45,340.12 357.54,341.54 359.64,342.94 361.74,344.32 363.85,345.69 365.97,347.03 368.12,348.37 370.28,349.69 372.44,351 374.6,352.28 376.77,353.54 378.97,354.81 381.17,356.05 383.38,357.28 385.58,358.49 387.79,359.67 390.03,360.86 392.27,362.03 394.5,363.17 396.74,364.3 399.01,365.43 401.27,366.54 403.53,367.63 405.82,368.72 408.11,369.79 410.39,370.84 412.7,371.89 415.01,372.92 417.31,373.93 419.64,374.94 421.96,375.94 424.26,376.91 426.61,377.88 428.93,378.83 431.3,379.79 433.64,380.72 435.97,381.64 438.34,382.55 440.68,383.44 443.06,384.34 445.42,385.22 447.82,386.09 450.19,386.95 452.59,387.8 454.98,388.64 457.39,389.48 459.78,390.29 462.21,391.11 464.6,391.91 467.03,392.7 469.44,393.48 471.87,394.26 474.27,395.02 476.71,395.78 479.11,396.52 481.54,397.26 483.94,397.98 486.37,398.7 488.83,399.42 491.12,400.08"/><path d="M255.49,11.01 255.49,13.52 255.51,16.02 255.54,18.53 255.58,21.04 255.63,23.55 255.69,26.05 255.76,28.56 255.85,31.07 255.95,33.58 256.05,36.08 256.17,38.59 256.3,41.1 256.45,43.61 256.6,46.11 256.76,48.62 256.94,51.13 257.13,53.64 257.33,56.14 257.54,58.65 257.77,61.16 258,63.65 258.25,66.14 258.51,68.63 258.78,71.12 259.06,73.61 259.36,76.1 259.67,78.59 259.98,81.07 260.32,83.56 260.66,86.05 261.02,88.54 261.39,91.03 261.77,93.51 262.17,95.98 262.57,98.45 262.99,100.92 263.42,103.39 263.87,105.86 264.33,108.34 264.81,110.81 265.29,113.26 265.79,115.71 266.3,118.17 266.83,120.62 267.37,123.08 267.92,125.53 268.49,127.97 269.07,130.4 269.66,132.84 270.27,135.27 270.9,137.71 271.54,140.13 272.19,142.54 272.86,144.96 273.54,147.38 274.24,149.8 274.95,152.2 275.68,154.6 276.42,157 277.19,159.4 277.96,161.78 278.75,164.16 279.56,166.55 280.38,168.91 281.21,171.27 282.07,173.64 282.94,175.98 283.82,178.33 284.73,180.68 285.64,183.01 286.58,185.33 287.53,187.66 288.5,189.97 289.49,192.28 290.49,194.58 291.51,196.87 292.56,199.16 293.61,201.44 294.69,203.71 295.78,205.97 296.89,208.22 298.01,210.46 299.16,212.7 300.32,214.92 301.5,217.14 302.7,219.35 303.92,221.55 305.15,223.73 306.4,225.9 307.67,228.07 308.96,230.22 310.27,232.37 311.59,234.5 312.93,236.61 314.3,238.73 315.67,240.82 317.07,242.9 318.49,244.98 319.92,247.04 321.37,249.08 322.84,251.12 324.33,253.14 325.83,255.15 327.35,257.14 328.89,259.13 330.45,261.1 332.03,263.05 333.62,264.98 335.23,266.92 336.87,268.83 338.51,270.73 340.17,272.61 341.84,274.48 343.55,276.34 345.26,278.18 347,280.01 348.74,281.82 350.5,283.61 352.27,285.38 354.05,287.14 355.87,288.89 357.7,290.63 359.54,292.35 361.39,294.05 363.26,295.74 365.13,297.4 367.02,299.05 368.92,300.68 370.85,302.31 372.8,303.92 374.75,305.51 376.72,307.09 378.69,308.65 380.68,310.19 382.67,311.71 384.67,313.22 386.68,314.7 388.73,316.19 390.78,317.66 392.84,319.11 394.9,320.54 396.98,321.96 399.06,323.35 401.14,324.73 403.26,326.11 405.39,327.47 407.51,328.82 409.65,330.14 411.78,331.45 413.95,332.76 416.12,334.05 418.3,335.32 420.47,336.57 422.65,337.81 424.86,339.04 427.07,340.26 429.28,341.46 431.48,342.64 433.73,343.83 435.96,344.99 438.2,346.14 440.43,347.26 442.7,348.39 444.96,349.5 447.21,350.6 449.5,351.69 451.78,352.76 454.05,353.82 456.36,354.88 458.66,355.92 460.95,356.94 463.27,357.96 465.58,358.96 467.88,359.95 470.21,360.93 472.52,361.9 474.87,362.87 477.21,363.81 479.53,364.75 481.88,365.68 484.22,366.59 486.58,367.5 488.93,368.4 491.12,369.22"/><path d="M292.58,11.01 292.59,13.52 292.61,16.03 292.65,18.53 292.69,21.04 292.75,23.55 292.83,26.06 292.92,28.57 293.02,31.08 293.14,33.59 293.26,36.1 293.41,38.61 293.56,41.11 293.74,43.62 293.92,46.13 294.12,48.62 294.33,51.12 294.55,53.61 294.79,56.1 295.05,58.6 295.31,61.09 295.6,63.58 295.89,66.07 296.2,68.57 296.53,71.06 296.87,73.55 297.22,76.03 297.59,78.5 297.97,80.98 298.36,83.46 298.77,85.93 299.2,88.41 299.64,90.88 300.1,93.34 300.56,95.8 301.05,98.26 301.55,100.72 302.07,103.18 302.59,105.63 303.14,108.07 303.7,110.52 304.28,112.96 304.87,115.4 305.47,117.83 306.1,120.26 306.74,122.69 307.39,125.11 308.06,127.52 308.75,129.94 309.45,132.35 310.17,134.76 310.91,137.15 311.66,139.55 312.43,141.94 313.21,144.32 314.02,146.7 314.84,149.08 315.67,151.44 316.52,153.8 317.39,156.15 318.28,158.49 319.18,160.84 320.1,163.17 321.04,165.5 321.99,167.81 322.96,170.13 323.95,172.42 324.96,174.72 325.99,177.02 327.03,179.3 328.09,181.58 329.17,183.84 330.27,186.11 331.39,188.36 332.52,190.59 333.67,192.82 334.83,195.04 336.02,197.25 337.23,199.45 338.45,201.65 339.69,203.83 340.95,206 342.23,208.17 343.53,210.32 344.84,212.45 346.17,214.59 347.52,216.7 348.88,218.8 350.27,220.91 351.68,222.99 353.1,225.06 354.53,227.11 355.99,229.17 357.47,231.2 358.96,233.22 360.46,235.23 361.98,237.21 363.53,239.2 365.09,241.17 366.67,243.13 368.26,245.07 369.86,246.99 371.48,248.89 373.13,250.8 374.79,252.69 376.47,254.56 378.16,256.42 379.86,258.26 381.58,260.09 383.31,261.9 385.06,263.69 386.83,265.48 388.62,267.26 390.42,269.01 392.24,270.76 394.07,272.48 395.91,274.2 397.76,275.89 399.63,277.57 401.5,279.23 403.39,280.87 405.29,282.5 407.2,284.12 409.14,285.73 411.09,287.33 413.06,288.91 415.03,290.47 417.01,292.02 419.01,293.55 421.01,295.06 423.02,296.56 425.04,298.05 427.07,299.51 429.13,300.98 431.2,302.43 433.27,303.86 435.35,305.28 437.44,306.68 439.54,308.07 441.64,309.43 443.74,310.79 445.88,312.14 448.02,313.47 450.17,314.79 452.32,316.1 454.47,317.38 456.63,318.65 458.81,319.93 461,321.18 463.19,322.42 465.38,323.64 467.58,324.85 469.8,326.05 472.02,327.24 474.24,328.41 476.46,329.57 478.72,330.73 480.96,331.87 483.21,332.99 485.45,334.1 487.72,335.21 489.99,336.3 491.12,336.84"/><path d="M329.68,11.01 329.69,13.51 329.71,16.02 329.75,18.52 329.81,21.03 329.88,23.53 329.97,26.04 330.07,28.54 330.19,31.05 330.32,33.55 330.47,36.06 330.64,38.56 330.82,41.07 331.02,43.57 331.24,46.08 331.47,48.57 331.71,51.06 331.97,53.55 332.25,56.04 332.55,58.53 332.86,61.02 333.19,63.51 333.53,66 333.89,68.47 334.27,70.95 334.66,73.42 335.07,75.9 335.49,78.38 335.94,80.84 336.39,83.3 336.87,85.76 337.36,88.22 337.87,90.68 338.4,93.13 338.94,95.57 339.5,98.02 340.08,100.47 340.67,102.9 341.28,105.33 341.91,107.76 342.56,110.18 343.22,112.6 343.9,115.02 344.6,117.42 345.31,119.82 346.05,122.22 346.8,124.61 347.57,127 348.36,129.39 349.16,131.76 349.98,134.14 350.82,136.5 351.68,138.85 352.55,141.2 353.45,143.54 354.36,145.87 355.29,148.2 356.23,150.52 357.2,152.84 358.18,155.14 359.19,157.44 360.21,159.72 361.25,162.01 362.3,164.28 363.38,166.55 364.48,168.81 365.59,171.05 366.72,173.3 367.87,175.52 369.03,177.74 370.22,179.95 371.43,182.15 372.64,184.33 373.89,186.52 375.15,188.69 376.42,190.84 377.72,193 379.04,195.14 380.37,197.27 381.72,199.38 383.08,201.47 384.47,203.57 385.87,205.65 387.29,207.72 388.73,209.78 390.18,211.81 391.65,213.84 393.14,215.86 394.65,217.87 396.18,219.87 397.72,221.85 399.28,223.81 400.85,225.77 402.44,227.7 404.04,229.62 405.66,231.53 407.29,233.43 408.95,235.32 410.63,237.2 412.32,239.06 414.03,240.91 415.75,242.75 417.48,244.57 419.24,246.37 421,248.16 422.78,249.94 424.57,251.7 426.38,253.45 428.2,255.18 430.03,256.9 431.88,258.6 433.74,260.29 435.62,261.97 437.5,263.63 439.4,265.27 441.31,266.91 443.24,268.52 445.17,270.12 447.12,271.71 449.08,273.28 451.05,274.84 453.03,276.39 455.02,277.91 457.02,279.43 459.03,280.93 461.05,282.41 463.08,283.89 465.12,285.34 467.17,286.78 469.22,288.21 471.28,289.62 473.38,291.04 475.48,292.43 477.59,293.82 479.7,295.19 481.82,296.54 483.95,297.88 486.08,299.21 488.22,300.52 490.37,301.81 491.12,302.26"/><path d="M366.78,11.01 366.79,13.52 366.82,16.03 366.86,18.54 366.92,21.05 367.01,23.55 367.11,26.06 367.22,28.57 367.36,31.07 367.51,33.57 367.68,36.06 367.87,38.56 368.08,41.06 368.31,43.55 368.55,46.05 368.82,48.55 369.1,51.04 369.4,53.53 369.71,56.01 370.05,58.5 370.4,60.98 370.78,63.46 371.17,65.94 371.58,68.41 372.01,70.88 372.45,73.35 372.92,75.81 373.4,78.27 373.9,80.73 374.42,83.17 374.96,85.62 375.52,88.06 376.1,90.5 376.69,92.93 377.31,95.36 377.94,97.78 378.59,100.2 379.26,102.62 379.95,105.03 380.66,107.44 381.39,109.84 382.14,112.23 382.9,114.61 383.69,117 384.49,119.37 385.31,121.74 386.15,124.09 387.02,126.45 387.89,128.8 388.8,131.14 389.71,133.47 390.65,135.79 391.61,138.11 392.58,140.42 393.58,142.72 394.6,145.02 395.63,147.3 396.68,149.58 397.76,151.85 398.85,154.1 399.95,156.35 401.08,158.59 402.23,160.82 403.4,163.04 404.58,165.24 405.79,167.45 407.01,169.64 408.26,171.82 409.52,173.99 410.79,176.14 412.09,178.29 413.4,180.42 414.74,182.54 416.09,184.66 417.46,186.76 418.85,188.86 420.26,190.93 421.68,193 423.12,195.05 424.58,197.09 426.06,199.12 427.55,201.14 429.06,203.14 430.59,205.13 432.13,207.11 433.7,209.07 435.27,211.02 436.87,212.96 438.48,214.89 440.11,216.8 441.75,218.7 443.42,220.59 445.09,222.47 446.78,224.32 448.48,226.15 450.19,227.98 451.92,229.79 453.67,231.59 455.43,233.38 457.21,235.15 459,236.91 460.81,238.66 462.63,240.4 464.46,242.11 466.3,243.81 468.15,245.49 470.02,247.17 471.9,248.83 473.79,250.47 475.7,252.11 477.63,253.73 479.56,255.34 481.5,256.93 483.44,258.5 485.4,260.06 487.38,261.6 489.36,263.14 491.12,264.48"/><path d="M403.88,11.01 403.89,13.51 403.92,16.02 403.97,18.53 404.04,21.03 404.13,23.54 404.24,26.05 404.37,28.55 404.53,31.05 404.7,33.54 404.89,36.04 405.11,38.53 405.34,41.03 405.59,43.53 405.87,46.01 406.16,48.5 406.48,50.98 406.81,53.47 407.17,55.95 407.54,58.43 407.94,60.9 408.36,63.38 408.8,65.84 409.25,68.3 409.73,70.77 410.23,73.22 410.75,75.67 411.29,78.12 411.85,80.56 412.43,82.99 413.03,85.43 413.65,87.85 414.3,90.27 414.96,92.68 415.64,95.09 416.34,97.49 417.07,99.89 417.81,102.28 418.58,104.67 419.36,107.05 420.17,109.42 421,111.79 421.84,114.15 422.71,116.5 423.6,118.85 424.51,121.19 425.44,123.51 426.38,125.83 427.35,128.14 428.34,130.44 429.35,132.74 430.38,135.02 431.43,137.3 432.5,139.56 433.58,141.82 434.69,144.06 435.81,146.29 436.96,148.52 438.13,150.75 439.32,152.96 440.53,155.16 441.76,157.35 443.01,159.53 444.28,161.7 445.56,163.84 446.85,165.98 448.17,168.11 449.51,170.23 450.87,172.33 452.24,174.43 453.64,176.51 455.05,178.59 456.48,180.64 457.93,182.68 459.39,184.72 460.88,186.74 462.38,188.75 463.89,190.74 465.42,192.72 466.97,194.69 468.54,196.65 470.13,198.59 471.73,200.52 473.35,202.44 474.98,204.34 476.63,206.23 478.29,208.1 479.97,209.97 481.67,211.82 483.38,213.65 485.1,215.47 486.84,217.29 488.59,219.08 490.36,220.86 491.12,221.61"/><path d="M440.97,11.01 440.99,13.51 441.02,16.01 441.08,18.52 441.15,21.02 441.26,23.52 441.38,26.03 441.53,28.53 441.69,31.03 441.89,33.52 442.1,36.02 442.34,38.51 442.6,41 442.88,43.49 443.18,45.97 443.51,48.45 443.86,50.93 444.23,53.41 444.62,55.88 445.04,58.35 445.48,60.82 445.94,63.28 446.42,65.74 446.93,68.19 447.45,70.64 448,73.08 448.58,75.52 449.17,77.95 449.79,80.38 450.43,82.8 451.09,85.22 451.77,87.62 452.48,90.02 453.2,92.42 453.95,94.81 454.73,97.19 455.52,99.57 456.34,101.94 457.17,104.3 458.03,106.65 458.91,109 459.82,111.33 460.74,113.66 461.69,115.98 462.65,118.29 463.64,120.6 464.65,122.89 465.68,125.17 466.73,127.44 467.8,129.71 468.9,131.96 470.01,134.2 471.14,136.43 472.3,138.66 473.47,140.87 474.67,143.07 475.88,145.26 477.11,147.44 478.37,149.61 479.64,151.76 480.94,153.91 482.25,156.04 483.58,158.16 484.93,160.27 486.3,162.37 487.69,164.45 489.1,166.53 490.53,168.59 491.12,169.43"/></g>
<rect x="74.1" y="134.3" width="264.4" height="5" fill="#000"/>
<rect x="368.9" y="165.6" width="3.2" height="321.6" fill="#000"/>
<g fill="#606060"><rect x="60.3" y="0" width="1.35" height="527"/><rect x="60.2" y="525.6" width="439.8" height="1.2"/><rect x="60.2" y="0" width="439.8" height="0.9" fill="#383838"/><rect x="498.5" y="0" width="1.5" height="527"/></g>
<path d="M70,526.2v-3.4M70,0.6v3.4M88.8,526.2v-1.8M88.8,0.6v1.8M107.6,526.2v-1.8M107.6,0.6v1.8M126.4,526.2v-1.8M126.4,0.6v1.8M145.2,526.2v-3.4M145.2,0.6v3.4M164,526.2v-1.8M164,0.6v1.8M182.8,526.2v-1.8M182.8,0.6v1.8M201.6,526.2v-1.8M201.6,0.6v1.8M220.4,526.2v-3.4M220.4,0.6v3.4M239.2,526.2v-1.8M239.2,0.6v1.8M258,526.2v-1.8M258,0.6v1.8M276.8,526.2v-1.8M276.8,0.6v1.8M295.6,526.2v-3.4M295.6,0.6v3.4M314.4,526.2v-1.8M314.4,0.6v1.8M333.2,526.2v-1.8M333.2,0.6v1.8M352,526.2v-1.8M352,0.6v1.8M370.8,526.2v-3.4M370.8,0.6v3.4M389.6,526.2v-1.8M389.6,0.6v1.8M408.4,526.2v-1.8M408.4,0.6v1.8M427.2,526.2v-1.8M427.2,0.6v1.8M446,526.2v-3.4M446,0.6v3.4M464.8,526.2v-1.8M464.8,0.6v1.8M483.6,526.2v-1.8M483.6,0.6v1.8M61.0,515.8h3.4M499.2,515.8h-3.4M61.0,487.76h1.8M499.2,487.76h-1.8M61.0,459.71h1.8M499.2,459.71h-1.8M61.0,431.67h1.8M499.2,431.67h-1.8M61.0,403.62h1.8M499.2,403.62h-1.8M61.0,375.58h3.4M499.2,375.58h-3.4M61.0,347.54h1.8M499.2,347.54h-1.8M61.0,319.49h1.8M499.2,319.49h-1.8M61.0,291.45h1.8M499.2,291.45h-1.8M61.0,263.4h1.8M499.2,263.4h-1.8M61.0,235.36h3.4M499.2,235.36h-3.4M61.0,207.32h1.8M499.2,207.32h-1.8M61.0,179.27h1.8M499.2,179.27h-1.8M61.0,151.23h1.8M499.2,151.23h-1.8M61.0,123.18h1.8M499.2,123.18h-1.8M61.0,95.14h3.4M499.2,95.14h-3.4M61.0,67.1h1.8M499.2,67.1h-1.8M61.0,39.05h1.8M499.2,39.05h-1.8M61.0,11.01h1.8M499.2,11.01h-1.8" stroke="#333" stroke-width="1" fill="none"/>
<g class="tx"><text x="418.26" y="64.6">10</text>
<text class="an" transform="translate(439.64,64.6) scale(0.85,1)">Å</text>
<text x="452.45" y="57.5" class="sp">−</text>
<text x="462.08" y="56.2" class="sp">1</text>
<text x="392.9" y="100.3">9</text>
<text class="an" transform="translate(404.24,100.3) scale(0.85,1)">Å</text>
<text x="417.05" y="93.2" class="sp">−</text>
<text x="426.68" y="91.9" class="sp">1</text>
<text x="366.16" y="134.4">8</text>
<text class="an" transform="translate(377.04,134.4) scale(0.85,1)">Å</text>
<text x="389.85" y="127.3" class="sp">−</text>
<text x="399.48" y="126" class="sp">1</text>
<text x="338.55" y="167.5">7</text>
<text class="an" transform="translate(350.04,167.5) scale(0.85,1)">Å</text>
<text x="362.85" y="160.4" class="sp">−</text>
<text x="372.48" y="159.1" class="sp">1</text>
<text x="312.05" y="200">6</text>
<text class="an" transform="translate(323.04,200) scale(0.85,1)">Å</text>
<text x="335.85" y="192.9" class="sp">−</text>
<text x="345.48" y="191.6" class="sp">1</text>
<text x="285.22" y="232.5">5</text>
<text class="an" transform="translate(296.24,232.5) scale(0.85,1)">Å</text>
<text x="309.05" y="225.4" class="sp">−</text>
<text x="318.68" y="224.1" class="sp">1</text>
<text x="256.76" y="267.5">4</text>
<text class="an" transform="translate(268.04,267.5) scale(0.85,1)">Å</text>
<text x="280.85" y="260.4" class="sp">−</text>
<text x="290.48" y="259.1" class="sp">1</text>
<text x="225.94" y="304.5">3</text>
<text class="an" transform="translate(237.04,304.5) scale(0.85,1)">Å</text>
<text x="249.85" y="297.4" class="sp">−</text>
<text x="259.48" y="296.1" class="sp">1</text>
<text x="191.03" y="347.5">2</text>
<text class="an" transform="translate(202.64,347.5) scale(0.85,1)">Å</text>
<text x="215.45" y="340.4" class="sp">−</text>
<text x="225.08" y="339.1" class="sp">1</text>
<text x="129.58" y="400">k</text>
<text transform="translate(145.89,400) scale(1.1,1)">=</text>
<text x="168.56" y="400">1</text>
<text class="an" transform="translate(178.04,400) scale(0.85,1)">Å</text>
<text x="190.85" y="392.9" class="sp">−</text>
<text x="200.48" y="391.6" class="sp">1</text>
<text x="58.4" y="522.1" text-anchor="end" font-size="22">0</text>
<text x="58.4" y="381.88" text-anchor="end" font-size="22">50</text>
<text x="58.4" y="241.66" text-anchor="end" font-size="22">100</text>
<text x="58.4" y="101.44" text-anchor="end" font-size="22">150</text>
<text x="69.6" y="546.9" text-anchor="middle" font-size="22">0</text>
<text x="144.8" y="546.9" text-anchor="middle" font-size="22">2000</text>
<text x="220" y="546.9" text-anchor="middle" font-size="22">4000</text>
<text x="295.2" y="546.9" text-anchor="middle" font-size="22">6000</text>
<text x="370.4" y="546.9" text-anchor="middle" font-size="22">8000</text>
<text x="445.6" y="546.9" text-anchor="middle" font-size="22">10&#8202;<tspan dx="0.4">000</tspan></text>
<text x="227.79" y="575.4" font-size="21.2">Energy (eV)</text>
<text font-size="21.4" transform="translate(16.3,389.6) rotate(-90)">Scattering angle 2<tspan font-style="italic">θ</tspan> (degrees)</text>
<text x="148.98" y="156.3" font-size="21.3">ED−XRD at</text>
<text x="130" y="186" font-size="21.5">2<tspan font-style="italic">θ</tspan> = 135 degrees</text>
<text x="375.18" y="317" font-size="21.6">AD−XRD at</text>
<text x="385.18" y="347.4" font-size="21.5">E</text>
<text font-size="21.5" transform="translate(402.16,347.4) scale(1.15,1)">=</text>
<text x="423.6" y="347.4" font-size="21.5">8 keV</text></g>
</svg>
</body></html>
